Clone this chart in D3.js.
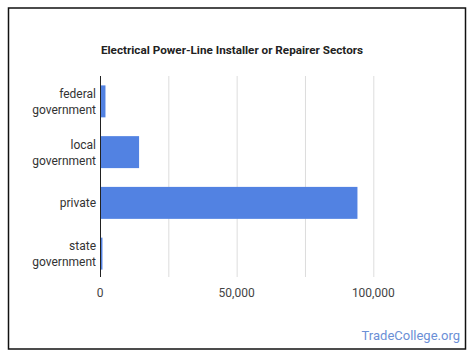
<!DOCTYPE html>
<html><head><meta charset="utf-8">
<script src="https://cdn.jsdelivr.net/npm/d3@7"></script>
<style>body{margin:0;background:#fff;font-family:Roboto,Arial,sans-serif}</style>
</head><body>
<svg id="c" width="476" height="357"></svg>
<script>
const categories = [["federal","government"],["local","government"],["private"],["state","government"]];
const values = [2000, 14300, 94200, 900];
const tickValues = [0, 25000, 50000, 75000, 100000];
const tickLabels = ["0", "", "50,000", "", "100,000"];
const title = "Electrical Power-Line Installer or Repairer Sectors";

(function(){
const svg = d3.select("#c");
svg.append("rect").attr("x",0).attr("y",0).attr("width",476).attr("height",357).attr("fill","#fff");
svg.append("rect").attr("x",8.5).attr("y",8).attr("width",457).attr("height",341)
  .attr("fill","none").attr("stroke","#111").attr("stroke-width",1.5);

const pl=100, pr=373.3, pt=76, pb=279;
const x = d3.scaleLinear().domain([0,100000]).range([pl,pr]);
const y = d3.scaleBand().domain(d3.range(categories.length)).range([pt,pb]).paddingInner(0.37).paddingOuter(0.185);

svg.append("text").attr("x",232).attr("y",54).attr("text-anchor","middle")
  .attr("font-size",11.7).attr("font-weight","bold").attr("fill","#222").text(title);

svg.append("g").selectAll("line").data(tickValues.slice(1)).join("line")
  .attr("x1",d=>x(d)+0.5).attr("x2",d=>x(d)+0.5).attr("y1",pt).attr("y2",277)
  .attr("stroke","#ddd").attr("stroke-width",1);

svg.append("g").selectAll("rect").data(values).join("rect")
  .attr("x",x(0)).attr("y",(d,i)=>y(i)).attr("width",d=>x(d)-x(0)).attr("height",y.bandwidth())
  .attr("fill","#5282e2");

svg.append("line").attr("x1",x(0)+0.5).attr("x2",x(0)+0.5).attr("y1",pt).attr("y2",277)
  .attr("stroke","#222").attr("stroke-width",1);

svg.append("g").selectAll("text").data(tickValues).join("text")
  .attr("x",d=>x(d)).attr("y",297).attr("text-anchor","middle")
  .attr("font-size",12).attr("fill","#444").text((d,i)=>tickLabels[i]);

const cg = svg.append("g");
categories.forEach((lines,i)=>{
  const cy = y(i)+y.bandwidth()/2;
  const n = lines.length, lh = 16;
  lines.forEach((t,j)=>{
    cg.append("text").attr("x",96).attr("y",cy + (j-(n-1)/2)*lh + 4.5)
      .attr("text-anchor","end").attr("font-size",12).attr("fill","#333").text(t);
  });
});

svg.append("text").attr("x",460).attr("y",340).attr("text-anchor","end")
  .attr("font-size",13).attr("fill","#6b8fd6").text("TradeCollege.org");
})();
</script>
</body></html>
